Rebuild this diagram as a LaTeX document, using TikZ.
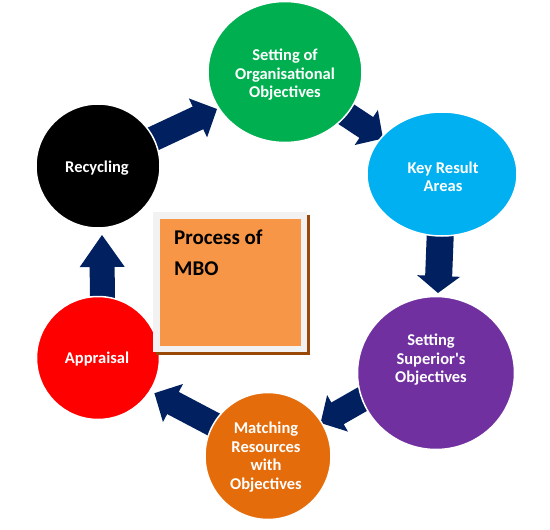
\documentclass[tikz,border=0pt]{standalone}
\usepackage{fontspec}
\setmainfont{Carlito}
\usetikzlibrary{shapes.geometric,calc}
\definecolor{cgreen}{HTML}{00B050}
\definecolor{cblue}{HTML}{00B0F0}
\definecolor{cpurple}{HTML}{7030A0}
\definecolor{corange}{HTML}{E46C0A}
\definecolor{cred}{HTML}{FF0000}
\definecolor{cnavy}{HTML}{002060}
\definecolor{boxorange}{HTML}{F79646}
\definecolor{framegray}{HTML}{F2F2F2}
\definecolor{shadowbrown}{HTML}{984807}
% #1 start, #2 tip, #3 shaft half width, #4 head half width, #5 head length
\newcommand{\mbarrow}[5]{%
  \path ($(#2)!#5!(#1)$) coordinate (mb-back);
  \fill[arrowfill] ($(#1)!#3!90:(#2)$) -- ($(mb-back)!#3!90:(#2)$) -- ($(mb-back)!#4!90:(#2)$) -- (#2)
    -- ($(mb-back)!#4!-90:(#2)$) -- ($(mb-back)!#3!-90:(#2)$) -- ($(#1)!#3!-90:(#2)$) -- cycle;}
\begin{document}
\begin{tikzpicture}[x=1pt,y=-1pt,
  arrowfill/.style={fill=cnavy},
  stage/.style={ellipse, draw=white, line width=1.5pt, inner sep=0pt, outer sep=0pt},
  stagetext/.style={align=center, text=white, inner sep=0pt, font=\fontsize{16.5}{18.5}\selectfont\bfseries},
  boxtext/.style={anchor=base west, inner sep=0pt, font=\fontsize{21}{25}\selectfont\bfseries}]
\useasboundingbox (0,0) rectangle (550,530);
% arrow end points
\coordinate (a1s) at (140,145);   \coordinate (a1e) at (217,109);
\coordinate (a2s) at (333,105.5); \coordinate (a2e) at (383,138.5);
\coordinate (a3s) at (441,215);   \coordinate (a3e) at (438,293);
\coordinate (a4s) at (376.7,391); \coordinate (a4e) at (320.6,423);
\coordinate (a5s) at (221.6,428.6); \coordinate (a5e) at (154.4,393.2);
\coordinate (a6s) at (102.5,320); \coordinate (a6e) at (102,235);
\mbarrow{a1s}{a1e}{12.5pt}{21.5pt}{21pt}
\mbarrow{a2s}{a2e}{12.5pt}{21pt}{20pt}
\mbarrow{a3s}{a3e}{13.5pt}{21.5pt}{17pt}
\mbarrow{a4s}{a4e}{12.5pt}{21pt}{19.5pt}
\mbarrow{a5s}{a5e}{12.5pt}{21.5pt}{21pt}
\mbarrow{a6s}{a6e}{12.5pt}{22.5pt}{32pt}
% stages
\node[stage, fill=cgreen, minimum width=154pt, minimum height=141pt] (green) at (285,72) {};
\node[stage, fill=cblue, minimum width=150pt, minimum height=124pt] (blue) at (442,174) {};
\node[stage, fill=cpurple, minimum width=157pt, minimum height=153pt] (purple) at (436,373) {};
\node[stage, fill=corange, minimum width=126pt, minimum height=127pt] (orange) at (268,456) {};
\node[stage, fill=cred, minimum width=123pt, minimum height=123pt] (red) at (98,358) {};
\node[stage, fill=black, minimum width=124pt, minimum height=124pt] (black) at (98,166) {};
\node[stagetext] (greentxt) at (285,75) {Setting of\\Organisational\\Objectives};
\node[stagetext] (bluetxt) at (443,177) {Key Result\\Areas};
\node[stagetext] (purpletxt) at (431,360) {Setting\\Superior\textquotesingle s\\Objectives};
\node[stagetext] (orangetxt) at (266,457) {Matching\\Resources\\with\\Objectives};
\node[stagetext] (redtxt) at (97,359.5) {Appraisal};
\node[stagetext] (blacktxt) at (97,168.5) {Recycling};
% central box
\fill[shadowbrown] (155.5,214.5) rectangle (309.5,354.5);
\node[fill=boxorange, draw=framegray, line width=6.5pt, minimum width=147.5pt, minimum height=133.5pt, inner sep=0pt, outer sep=0pt] (box) at (230.25,282.25) {};
\node[boxtext] (mbo1) at (174,244) {Process of};
\node[boxtext] (mbo2) at (174,275) {MBO};
\end{tikzpicture}
\end{document}
